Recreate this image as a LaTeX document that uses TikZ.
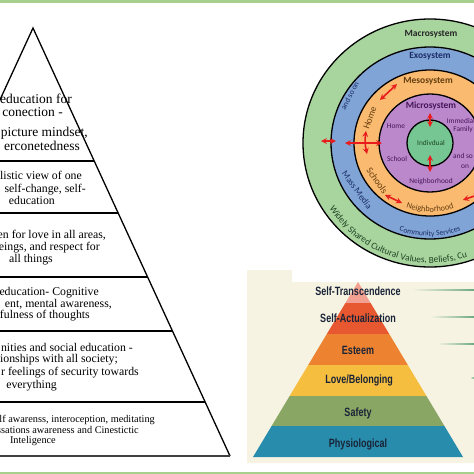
\documentclass[tikz,border=0pt]{standalone}
\usepackage{fontspec}
\setmainfont{Liberation Serif}
\newfontfamily\ecofont{Carlito}
\newfontfamily\maslowfont[FakeStretch=0.75]{Liberation Sans}
\usetikzlibrary{arrows}
\usetikzlibrary{decorations.text}

\definecolor{barGreen}{RGB}{168,208,141}
\definecolor{macroGreen}{RGB}{168,212,158}
\definecolor{exoBlue}{RGB}{128,164,214}
\definecolor{mesoOrange}{RGB}{250,186,112}
\definecolor{microPurple}{RGB}{188,136,204}
\definecolor{indivGreen}{RGB}{118,198,148}
\definecolor{arrowRed}{RGB}{232,28,28}
\definecolor{macroText}{RGB}{30,70,35}
\definecolor{exoText}{RGB}{28,45,105}
\definecolor{mesoText}{RGB}{100,62,15}
\definecolor{microText}{RGB}{70,22,90}
\definecolor{cream}{RGB}{246,243,226}
\definecolor{calloutGreen}{RGB}{110,168,132}
\definecolor{transPink}{RGB}{242,160,145}
\definecolor{actRed}{RGB}{232,88,48}
\definecolor{esteemOrange}{RGB}{237,130,48}
\definecolor{loveYellow}{RGB}{246,190,62}
\definecolor{safetyGreen}{RGB}{138,166,100}
\definecolor{physBlue}{RGB}{40,140,172}
\definecolor{maslowText}{RGB}{25,35,55}

\begin{document}
\begin{tikzpicture}
	[x=1pt, y=-1pt, >=stealth,
	toptext/.style = {anchor=base east, inner sep=0pt, font=\fontsize{13.5}{14}\selectfont},
	midtext/.style = {anchor=base east, inner sep=0pt, font=\fontsize{11.8}{12}\selectfont},
	lowtext/.style = {anchor=base east, inner sep=0pt, font=\fontsize{10.3}{11}\selectfont},
	sysname/.style = {inner sep=0pt, text height=6pt, text depth=0pt, font=\ecofont\bfseries\fontsize{9.5}{10}\selectfont},
	ringtext/.style = {inner sep=0pt, text height=5pt, text depth=0pt, font=\ecofont\fontsize{7.4}{8}\selectfont},
	bigring/.style = {inner sep=0pt, text height=6pt, text depth=0pt, font=\ecofont\fontsize{9.5}{10}\selectfont},
	level/.style = {inner sep=0pt, text height=8.6pt, text depth=0pt, text=maslowText, font=\maslowfont\bfseries\fontsize{12}{12}\selectfont},
	redarrow/.style = {<->, draw=arrowRed, line width=1.6pt}]
	\useasboundingbox (0,0) rectangle (474,474);
	\clip (0,0) rectangle (474,474);
	\fill[white] (0,0) rectangle (474,474);
	\fill[barGreen] (0,0) rectangle (474,3);
	\fill[barGreen] (0,471.5) rectangle (474,474);

	% left pyramid
	\draw[line width=1.3pt] (-164,456) -- (33,28) -- (230,456);
	\begin{scope}
		\clip (-164,456) -- (33,28) -- (230,456) -- cycle;
		\foreach \y in {161,213,277,331,402}
			\draw[line width=1.4pt] (-10,\y) -- (300,\y);
	\end{scope}
	\draw[line width=1.5pt, black!75] (-10,456) -- (230,456);

	\node[toptext] (t11) at (72,103) {education for};
	\node[toptext] (t12) at (63,116) {conection -};
	\node[toptext] (t13) at (88,136) {picture mindset,};
	\node[toptext] (t14) at (80,150) {erconetedness};

	\node[midtext] (t21) at (82,179) {listic view of one};
	\node[midtext] (t22) at (86,192) {self-change, self-};
	\node[midtext] (t23) at (55,204) {education};

	\node[midtext] (t31) at (106,238) {en for love in all areas,};
	\node[midtext] (t32) at (100,250) {eings, and respect for};
	\node[midtext] (t33) at (53,262) {all things};

	\node[midtext] (t41) at (99,295) {education- Cognitive};
	\node[midtext] (t42) at (112,307) {ent, mental awareness,};
	\node[midtext] (t43) at (90,318) {fulness of thoughts};

	\node[midtext] (t51) at (133,351) {nities and social education -};
	\node[midtext] (t52) at (118,362) {tionships with all society;};
	\node[midtext] (t53) at (139,375) {r feelings of security towards};
	\node[midtext] (t54) at (57,388) {everything};

	\node[lowtext] (t61) at (155,422) {lf awarenss, interoception, meditating};
	\node[lowtext] (t62) at (139,433) {ssations awareness and Cinestictic};
	\node[lowtext] (t63) at (56,443) {Inteligence};

	% ecological systems
	\coordinate (eco) at (430,143);
	\filldraw[fill=macroGreen, line width=1.3pt] (eco) ellipse [x radius=127, y radius=124];
	\filldraw[fill=exoBlue, line width=1.3pt] (eco) ellipse [x radius=99, y radius=96];
	\filldraw[fill=mesoOrange, line width=1.3pt] (eco) ellipse [x radius=76, y radius=73];
	\filldraw[fill=microPurple, line width=1.3pt] (eco) ellipse [x radius=51, y radius=49];
	\filldraw[fill=indivGreen, line width=1.3pt] (eco) circle [radius=23];

	\node[sysname, text=black!85] (macro) at (431,33) {Macrosystem};
	\node[sysname, text=exoText] (exo) at (430,55) {Exosystem};
	\node[sysname, text=mesoText] (meso) at (428,80) {Mesosystem};
	\node[sysname, text=microText] (micro) at (431,105) {Microsystem};

	\node[ringtext, text=microText] (home) at (396,126) {Home};
	\node[ringtext, text=microText] (imm) at (463,121) {Immediate};
	\node[ringtext, text=microText] (fam) at (463,129) {Family};
	\node[ringtext, text=microText] (school) at (397,159) {School};
	\node[ringtext, text=microText] (andso) at (463,156) {and so};
	\node[ringtext, text=microText] (on) at (465,166) {on};
	\node[ringtext, text=microText] (nbh) at (431,181) {Neighborhood};
	\node[ringtext, text=macroText] (indiv) at (431,143) {Indivdual};

	\node[bigring, text=mesoText, rotate=70] (mhome) at (370,118) {Home};
	\node[bigring, text=mesoText, rotate=-55] (mschool) at (377,181) {Schools};
	\node[ringtext, text=exoText, rotate=63, font=\ecofont\fontsize{7.8}{8}\selectfont] (soon) at (350,96) {and so on};
	\node[bigring, text=exoText, rotate=-54, font=\ecofont\fontsize{9}{10}\selectfont] (media) at (357,190) {Mass Media};

	\path[decorate, decoration={text along path, text align=center,
		text={|\ecofont\fontsize{8.3}{9}\selectfont\color{mesoText}|Neighborhood}}]
		([shift={(eco)}]150:69) arc [start angle=150, end angle=30, radius=69];
	\path[decorate, decoration={text along path, text align=center,
		text={|\ecofont\fontsize{7.6}{8}\selectfont\color{exoText}|Community Services}}]
		([shift={(eco)}]150:93) arc [start angle=150, end angle=30, radius=93];
	\path[decorate, decoration={text along path,
		text={|\ecofont\fontsize{9.3}{10}\selectfont\color{macroText}|Widely Shared Cultural Values, Beliefs, Cu}}]
		([shift={(eco)}]147:120) arc [start angle=147, end angle=20, radius=120];

	\draw[redarrow] (430,113) -- (430,127);
	\draw[redarrow] (430,155) -- (430,172);
	\draw[redarrow] (380,100) -- (397,84);
	\draw[redarrow] (345,143) -- (382,143);
	\draw[redarrow] (366,131) to[bend right=10] (367,154);
	\draw[redarrow] (321,141) -- (336,141);
	\draw[redarrow] (385,195) -- (402,203);
	\draw[redarrow] (463,200) -- (480,194);

	% hierarchy of needs
	\fill[cream] (247,270) -- (292,270) -- (292,282) -- (474,282) -- (474,463) -- (247,463) -- cycle;
	\foreach \y/\x in {290/412, 317/430, 344/437, 378/470}
		\shade[left color=cream, right color=calloutGreen] (\x,\y-0.6) rectangle (474,\y+0.6);
	\begin{scope}
		\clip (358,282) -- (463,457) -- (253,457) -- cycle;
		\fill[transPink] (250,280) rectangle (470,303);
		\fill[actRed] (250,303) rectangle (470,334);
		\fill[esteemOrange] (250,334) rectangle (470,365);
		\fill[loveYellow] (250,365) rectangle (470,396);
		\fill[safetyGreen] (250,396) rectangle (470,426);
		\fill[physBlue] (250,426) rectangle (470,458);
	\end{scope}
	\node[level] (trans) at (358,291) {Self-Transcendence};
	\node[level] (actual) at (358,318) {Self-Actualization};
	\node[level] (esteem) at (358,350) {Esteem};
	\node[level] (love) at (359,379) {Love/Belonging};
	\node[level] (safety) at (358,412) {Safety};
	\node[level] (physio) at (358,443) {Physiological};
\end{tikzpicture}
\end{document}
